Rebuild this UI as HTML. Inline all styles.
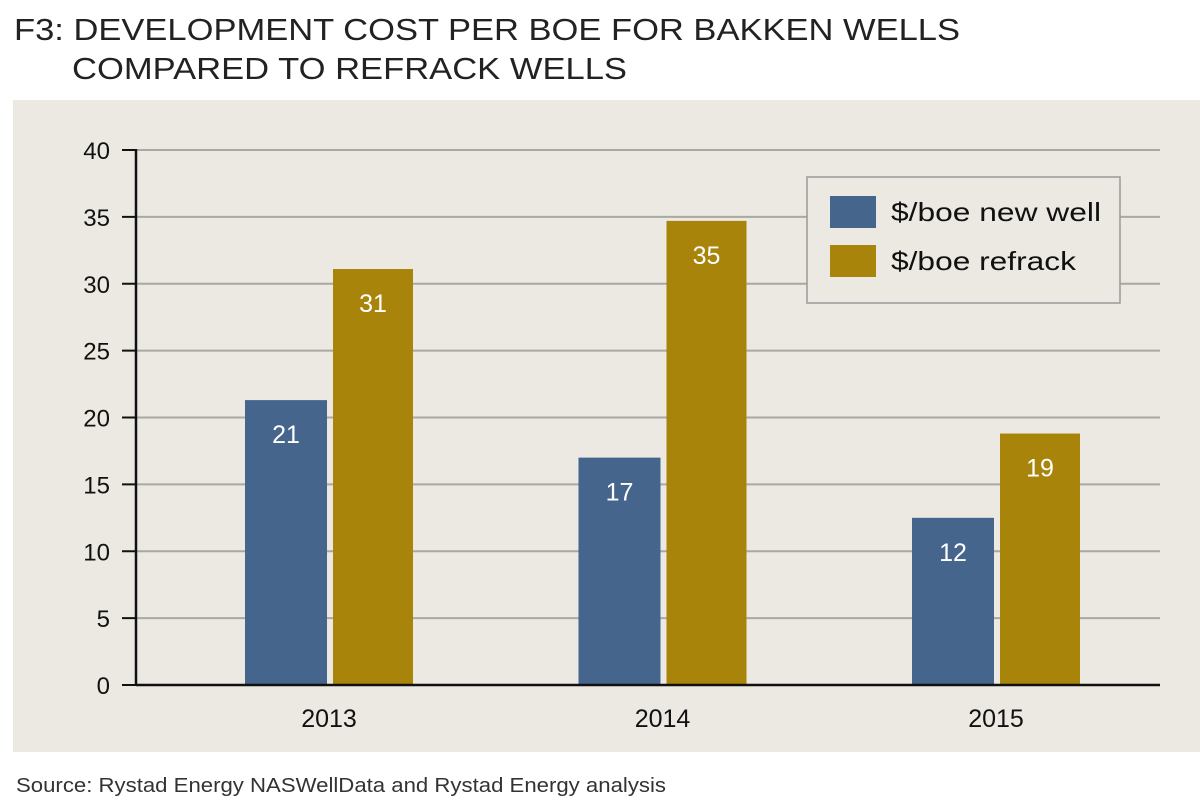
<!DOCTYPE html>
<html><head><meta charset="utf-8"><style>
body{margin:0;width:1200px;height:805px;background:#fff;overflow:hidden;font-family:"Liberation Sans",sans-serif;}
svg text{font-family:"Liberation Sans",sans-serif;}
</style></head><body>
<svg id="chart" width="1200" height="805">
<text x="14" y="40" font-size="31" fill="#222" textLength="946" lengthAdjust="spacingAndGlyphs">F3: DEVELOPMENT COST PER BOE FOR BAKKEN WELLS</text>
<text x="72" y="79" font-size="31" fill="#222" textLength="555" lengthAdjust="spacingAndGlyphs">COMPARED TO REFRACK WELLS</text>
<rect x="13" y="100" width="1187" height="652" fill="#ebe9e1"/>
<g id="plot"></g>
<text x="16" y="792" font-size="20" fill="#333" textLength="650" lengthAdjust="spacingAndGlyphs">Source: Rystad Energy NASWellData and Rystad Energy analysis</text>
</svg>
<script>
const categories=["2013","2014","2015"];
const newWell=[21.3,17.0,12.5];
const refrack=[31.1,34.7,18.8];
const newLabels=["21","17","12"];
const refLabels=["31","35","19"];
const yTicks=[0,5,10,15,20,25,30,35,40];
const NS="http://www.w3.org/2000/svg";
const g=document.getElementById('plot');
const x0=136,x1=1160,y0=685,y1=150,yMax=40;
function y(v){return y0-(v/yMax)*(y0-y1);}
function xc(i){return 329+i*333.5;}
function mk(t,a){const e=document.createElementNS(NS,t);for(const k in a)e.setAttribute(k,a[k]);g.appendChild(e);return e;}
yTicks.forEach(t=>{
 if(t>0){const l=mk('line',{x1:x0,x2:x1,y1:y(t),y2:y(t),stroke:'#a8a8a4','stroke-width':2});
 
 }
 const tk=mk('line',{x1:122,x2:x0,y1:y(t),y2:y(t),stroke:'#111','stroke-width':2});
 
 
 const tx=mk('text',{x:110,y:y(t)+9,'font-size':24,'text-anchor':'end',fill:'#111'});
 tx.textContent=t;
 
 
});
categories.forEach((c,i)=>{
 const cx=xc(i);
 const b1=mk('rect',{x:cx-84,y:y(newWell[i]),width:82,height:y0-y(newWell[i]),fill:'#46658c'});
 
 
 const b2=mk('rect',{x:cx+4,y:y(refrack[i]),width:80,height:y0-y(refrack[i]),fill:'#a8840a'});
 
 
 const t1=mk('text',{x:cx-43,y:y(newWell[i])+43,'font-size':25,'text-anchor':'middle',fill:'#fff'});
 t1.textContent=newLabels[i];
 
 
 const t2=mk('text',{x:cx+44,y:y(refrack[i])+43,'font-size':25,'text-anchor':'middle',fill:'#fff'});
 t2.textContent=refLabels[i];
 
 
 const xl=mk('text',{x:cx,y:727,'font-size':25,'text-anchor':'middle',fill:'#111'});
 xl.textContent=c;
 
 
});
const ya=mk('line',{x1:x0,x2:x0,y1:y1-1,y2:y0+1,stroke:'#111','stroke-width':2.5});


const xa=mk('line',{x1:x0,x2:x1,y1:y0,y2:y0,stroke:'#111','stroke-width':2.5});


const lg=mk('rect',{x:807,y:177,width:313,height:126,fill:'#ebe9e1',stroke:'#999','stroke-width':1.5});


[['$/boe new well','#46658c',212,210],['$/boe refrack','#a8840a',261,185]].forEach((e,i)=>{
 const s=mk('rect',{x:830,y:e[2]-16,width:46,height:32,fill:e[1]});
 
 
 const t=mk('text',{x:891,y:e[2]+9,'font-size':26,fill:'#111',textLength:e[3],lengthAdjust:'spacingAndGlyphs'});
 t.textContent=e[0];
 
 
});
</script>
</body></html>
